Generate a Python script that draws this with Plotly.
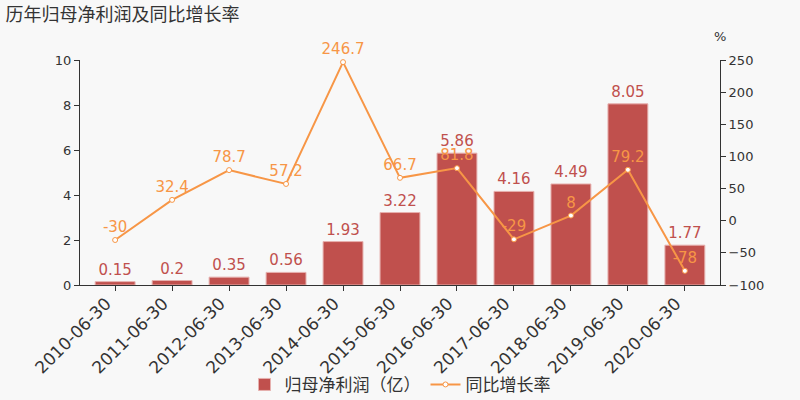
import plotly.graph_objects as go

categories = ["2010-06-30", "2011-06-30", "2012-06-30", "2013-06-30", "2014-06-30", "2015-06-30",
              "2016-06-30", "2017-06-30", "2018-06-30", "2019-06-30", "2020-06-30"]
profit = [0.15, 0.2, 0.35, 0.56, 1.93, 3.22, 5.86, 4.16, 4.49, 8.05, 1.77]
growth = [-30, 32.4, 78.7, 57.2, 246.7, 66.7, 81.8, -29, 8, 79.2, -78]
profit_text = ["0.15", "0.2", "0.35", "0.56", "1.93", "3.22", "5.86", "4.16", "4.49", "8.05", "1.77"]
growth_text = ["-30", "32.4", "78.7", "57.2", "246.7", "66.7", "81.8", "-29", "8", "79.2", "-78"]

bar_color = "#c0504d"
line_color = "#f79646"
font = "Noto Sans CJK SC, DejaVu Sans, sans-serif"

fig = go.Figure()
fig.add_trace(go.Bar(
    x=categories, y=profit, name="归母净利润（亿）",
    marker=dict(color=bar_color, line=dict(color="#e6b0ae", width=1)),
    text=profit_text, textposition="outside", cliponaxis=False,
    textfont=dict(color=bar_color, size=15, family="DejaVu Sans"),
    width=0.7,
))
fig.add_trace(go.Scatter(
    x=categories, y=growth, name="同比增长率", yaxis="y2",
    mode="lines+markers+text",
    line=dict(color=line_color, width=2),
    marker=dict(size=5, color="white", line=dict(color=line_color, width=1)),
    text=growth_text, textposition="top center", cliponaxis=False,
    textfont=dict(color=line_color, size=15, family="DejaVu Sans"),
))

fig.update_layout(
    width=800, height=400,
    paper_bgcolor="#f8f8f8", plot_bgcolor="#f8f8f8",
    margin=dict(l=80, r=80, t=60, b=115, autoexpand=False),
    font=dict(family=font, color="#333"),
    title=dict(text="历年归母净利润及同比增长率", x=0.007, xanchor="left", y=0.978, yanchor="top",
               font=dict(size=18, color="#333", family=font)),
    xaxis=dict(
        type="category", automargin=False,
        showgrid=False, tickangle=-45, tickfont=dict(size=17, family="DejaVu Sans", color="#333"),
        ticklabelshift=-9, ticklabelstandoff=-4,
        showline=True, linecolor="#333", ticks="outside", ticklen=5, tickcolor="#333",
        zeroline=False,
    ),
    yaxis=dict(
        range=[0, 10], dtick=2, showgrid=False, showline=True, linecolor="#333",
        ticks="outside", ticklen=5, tickcolor="#333", zeroline=False, automargin=False,
        tickfont=dict(size=13, family="DejaVu Sans", color="#333"),
    ),
    yaxis2=dict(
        range=[-100, 250], dtick=50, overlaying="y", side="right", showgrid=False,
        showline=True, linecolor="#333", ticks="outside", ticklen=5, tickcolor="#333",
        zeroline=False, automargin=False, tickfont=dict(size=13, family="DejaVu Sans", color="#333"),
    ),
    legend=dict(orientation="h", x=0.5, xanchor="center", y=-0.444, yanchor="middle",
                font=dict(size=17, family=font, color="#333"), bgcolor="rgba(0,0,0,0)"),
    showlegend=True,
    bargap=0.3,
    annotations=[dict(text="%", x=1.0, xref="paper", y=1.06, yref="paper", showarrow=False,
                      font=dict(size=13, family="DejaVu Sans", color="#333"), xanchor="center", yanchor="bottom")],
)

fig.write_html("out.html")
